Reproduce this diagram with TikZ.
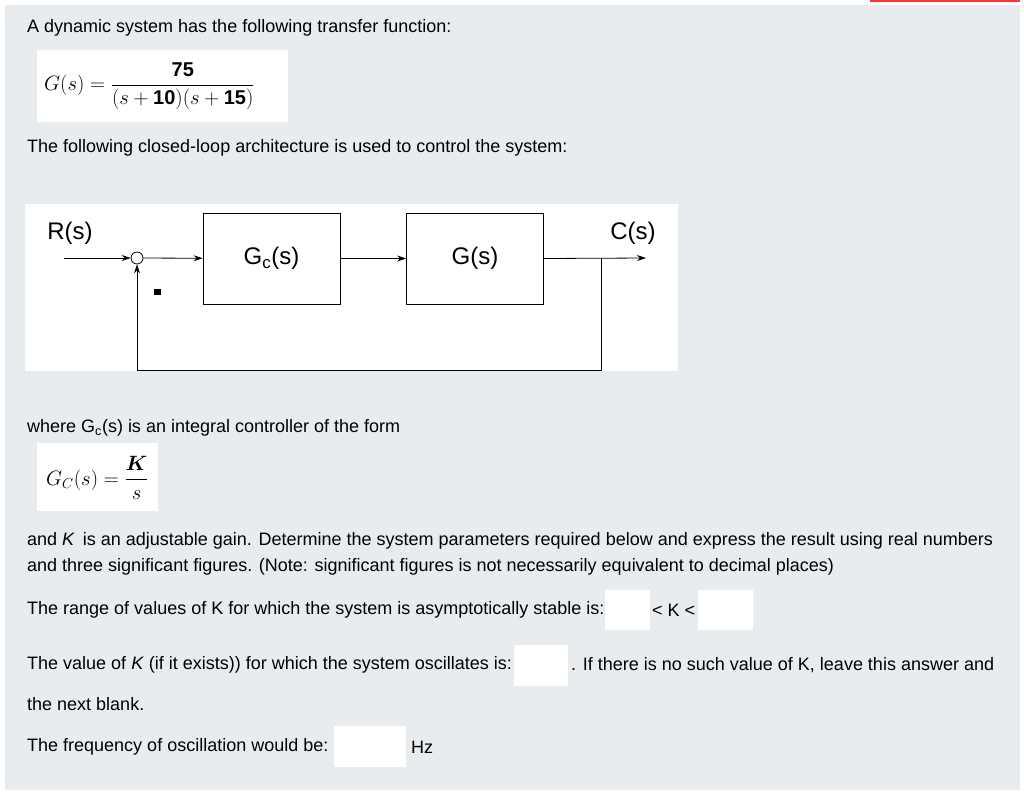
\documentclass[tikz,border=0pt]{standalone}
\usepackage{amsmath}
\usepackage{fontspec}
\setmainfont{Liberation Sans}
\usetikzlibrary{arrows.meta}
\definecolor{bg}{HTML}{E9ECEE}
\begin{document}
\begin{tikzpicture}[x=1pt,y=-1pt,
  txt/.style={anchor=west,inner sep=0pt,font=\fontsize{18}{21}\selectfont},
  blk/.style={draw,line width=0.8pt,minimum width=137pt,minimum height=91pt,font=\fontsize{24}{28}\selectfont},
  sig/.style={line width=0.8pt},
  arr/.style={sig,-{Stealth[length=9pt,width=6pt]}},
  ans/.style={fill=white}]
\useasboundingbox (0,0) rectangle (1024,793);
\fill[white] (0,0) rectangle (1024,793);
\fill[bg] (5,5) rectangle (1020,790);
\fill[red!80] (870,0) rectangle (1020,2);
\node[txt] (t1) at (27,28) {A dynamic system has the following transfer function:};
\fill[white] (37,50) rectangle (288,122);
\node[anchor=west,inner sep=0pt,font=\fontsize{20}{24}\selectfont] (gf) at (44,86) {$G(s)=\dfrac{\mathbf{75}}{(s+\mathbf{10})(s+\mathbf{15})}$};
\node[txt] (t2) at (27,148) {The following closed-loop architecture is used to control the system:};
\fill[white] (25,204) rectangle (678,371);
\node[font=\fontsize{24}{28}\selectfont] (R) at (70,233) {R(s)};
\node[font=\fontsize{24}{28}\selectfont] (C) at (633,233) {C(s)};
\coordinate (in) at (64,258);
\node[draw,circle,minimum size=12pt,inner sep=0pt,line width=0.8pt] (sum) at (137,258) {};
\node[blk] (gc) at (271.5,258.5) {G\textsubscript{c}(s)};
\node[blk] (g) at (475,258.5) {G(s)};
\coordinate (out) at (646,258);
\coordinate (br) at (601,258);
\coordinate (bot) at (601,370);
\coordinate (botl) at (137,370);
\fill (154,289) rectangle (161,295);
\draw[arr] (in) -- (sum);
\draw[arr] (sum) -- (gc);
\draw[arr] (gc) -- (g);
\draw[arr] (g.east) -- (out);
\draw[arr] (br) -- (bot) -- (botl) -- (sum);
\node[txt] (t3) at (27,428) {where G\textsubscript{c}(s) is an integral controller of the form};
\fill[white] (37,443) rectangle (158,511);
\node[anchor=west,inner sep=0pt,font=\fontsize{20}{24}\selectfont] (gcf) at (46,478) {$G_C(s)=\dfrac{\boldsymbol{K}}{s}$};
\node[txt] (t4) at (27,541) {and \textit{K}\, is an adjustable gain. Determine the system parameters required below and express the result using real numbers};
\node[txt] (t5) at (27,567) {and three significant figures. (Note: significant figures is not necessarily equivalent to decimal places)};
\node[txt] (t6) at (27,610) {The range of values of K for which the system is asymptotically stable is:};
\fill[ans] (605,590) rectangle (650,630);
\node[txt] (t7) at (652,610) {< K <};
\fill[ans] (698,590) rectangle (753,630);
\node[txt] (t8) at (27,665) {The value of \textit{K} (if it exists)) for which the system oscillates is:};
\fill[ans] (514,645) rectangle (568,686);
\node[txt] (t9) at (571,665) {. If there is no such value of K, leave this answer and};
\node[txt] (t10) at (27,704) {the next blank.};
\node[txt] (t11) at (27,747) {The frequency of oscillation would be:};
\fill[ans] (334,726) rectangle (406,767);
\node[txt] (t12) at (411,747) {Hz};
\end{tikzpicture}
\end{document}
